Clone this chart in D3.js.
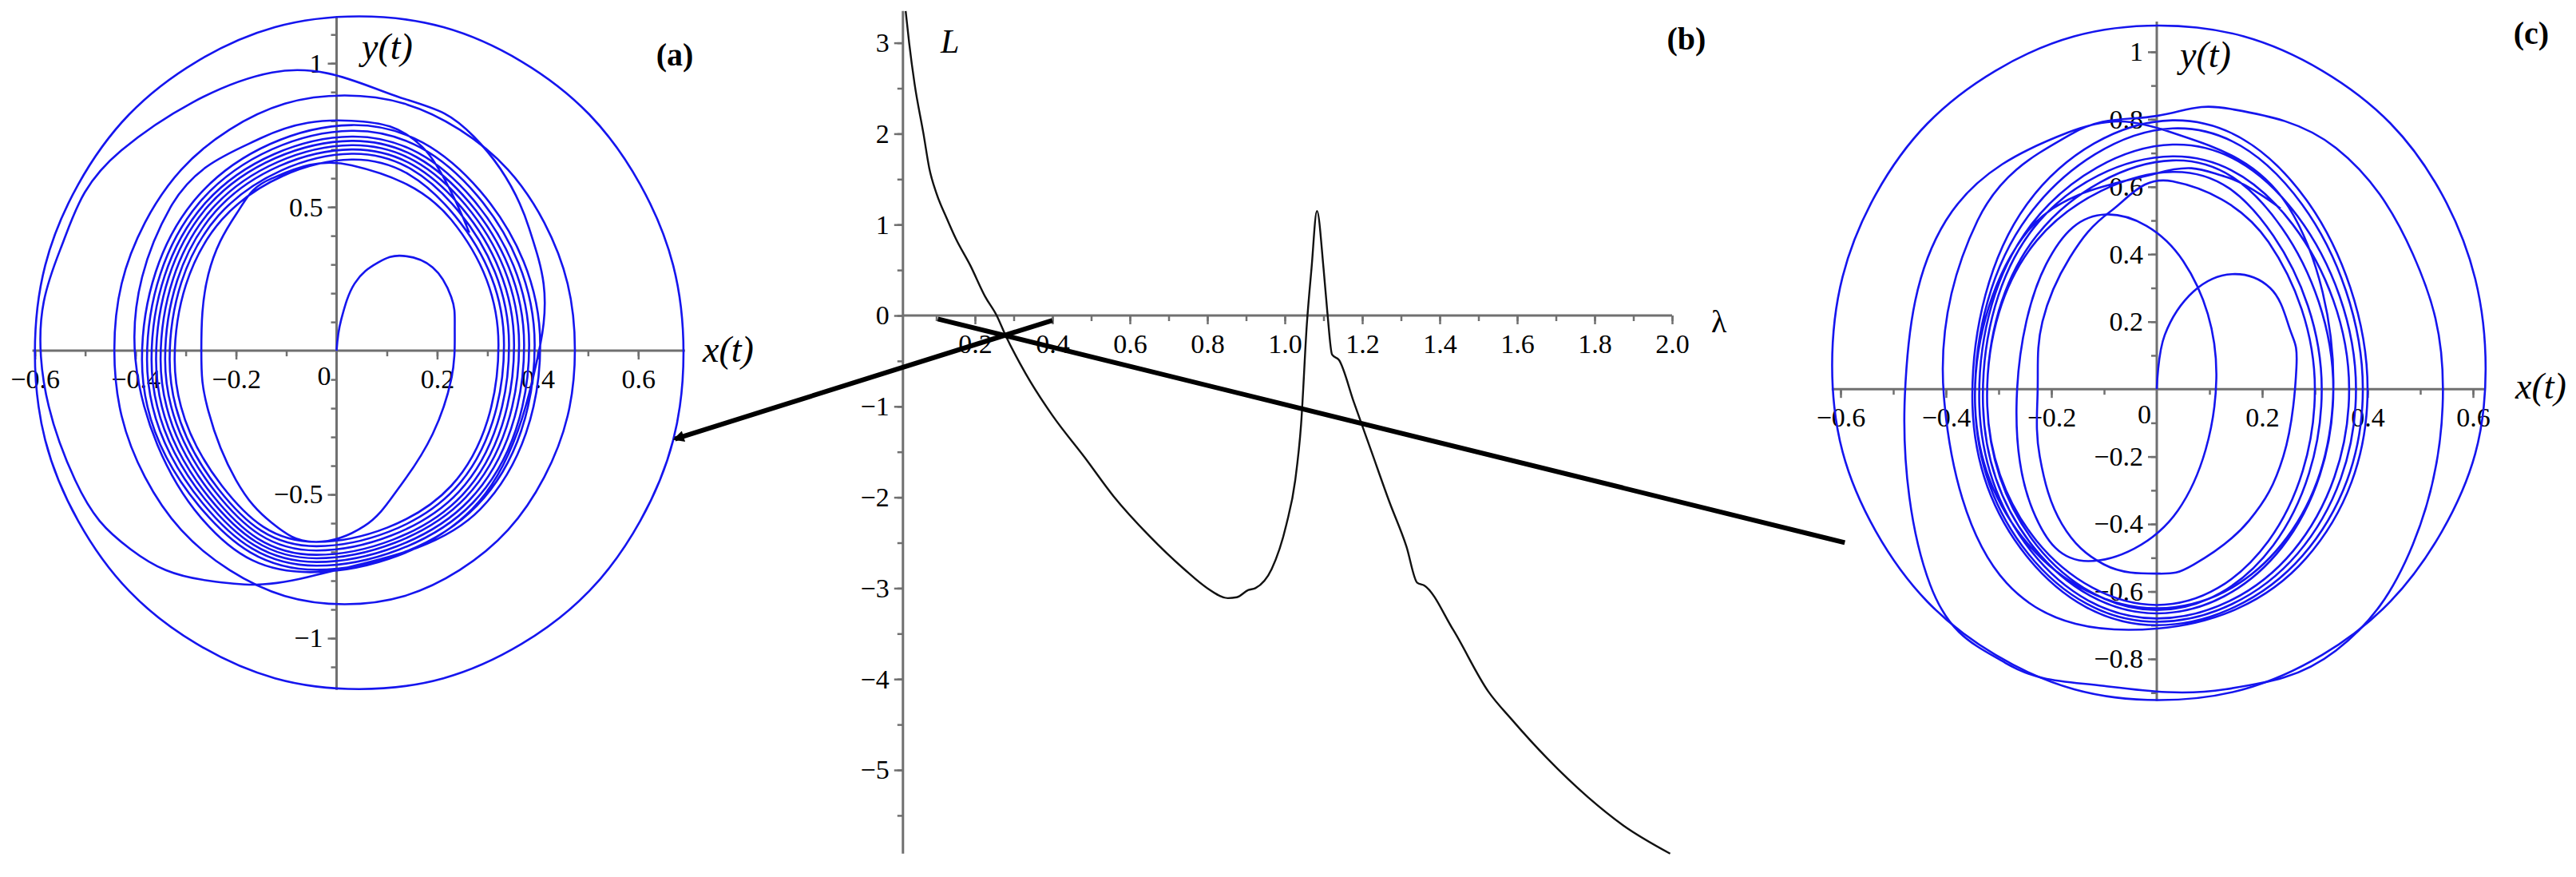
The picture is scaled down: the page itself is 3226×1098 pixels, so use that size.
<!DOCTYPE html>
<html>
<head>
<meta charset="utf-8">
<script src="https://cdn.jsdelivr.net/npm/d3@7"></script>
<style>
  html, body { margin: 0; padding: 0; background: #fff; overflow: hidden; }
</style>
</head>
<body>
<svg id="chart" width="3226" height="1098"></svg>
<script>
const svg = d3.select("#chart");

const serif = "'Liberation Serif', 'DejaVu Serif', serif";
const axisGray = "#707070";
const blue = "#1515ee";

/* ==========================
   DATA
========================== */

// panel (b): L(lambda)
const bLambda = [0.021, 0.03, 0.044, 0.067, 0.082, 0.1, 0.127, 0.15, 0.188, 0.226, 0.256, 0.278, 0.331, 0.40,
    0.483, 0.558, 0.649, 0.74, 0.80, 0.853, 0.876, 0.906, 0.924, 0.966, 1.004, 1.027, 1.042, 1.057, 1.069,
    1.083, 1.10, 1.11, 1.122, 1.14, 1.178, 1.224, 1.27, 1.314, 1.342, 1.36, 1.435, 1.526, 1.587, 1.677,
    1.783, 1.874, 1.995];
const bL = [3.35, 3.0, 2.55, 2.0, 1.62, 1.35, 1.07, 0.85, 0.55, 0.21, 0.0, -0.21, -0.64, -1.10,
    -1.56, -1.99, -2.42, -2.79, -3.00, -3.11, -3.10, -3.02, -3.00, -2.79, -2.30, -1.81, -1.20, -0.09, 0.52,
    1.15, 0.52, 0.03, -0.43, -0.49, -0.95, -1.50, -2.05, -2.54, -2.94, -2.97, -3.46, -4.14, -4.45, -4.87,
    -5.30, -5.61, -5.92];

// panel (a): trajectory (x(t), y(t)) read loop by loop
const aStart = [[0, 0], [0.009, 0.107], [0.036, 0.234], [0.082, 0.306], [0.132, 0.33], [0.191, 0.29], [0.228, 0.187],
    [0.235, 0.075], [0.228, -0.10], [0.191, -0.29], [0.128, -0.467], [0.055, -0.61]];
const aLoop2 = [[-0.046, -0.665], [-0.128, -0.60], [-0.2, -0.45], [-0.255, -0.21], [-0.269, 0.0], [-0.255, 0.266],
    [-0.2, 0.474], [-0.128, 0.6]];
const aRings = [
    [[0.03, 0.645], [0.228, 0.456], [0.322, 0.02], [0.228, -0.470], [-0.04, -0.665], [-0.228, -0.470], [-0.322, -0.03], [-0.228, 0.456]],
    [[0.03, 0.665], [0.235, 0.470], [0.333, 0.02], [0.235, -0.481], [-0.04, -0.68], [-0.235, -0.481], [-0.332, -0.03], [-0.235, 0.470]],
    [[0.03, 0.685], [0.243, 0.484], [0.343, 0.02], [0.243, -0.491], [-0.04, -0.695], [-0.241, -0.491], [-0.341, -0.03], [-0.241, 0.484]],
    [[0.03, 0.70], [0.250, 0.495], [0.353, 0.02], [0.250, -0.502], [-0.04, -0.71], [-0.247, -0.502], [-0.35, -0.03], [-0.247, 0.495]],
    [[0.03, 0.715], [0.257, 0.506], [0.363, 0.02], [0.257, -0.510], [-0.04, -0.722], [-0.254, -0.510], [-0.359, -0.03], [-0.254, 0.506]],
    [[0.03, 0.73], [0.264, 0.516], [0.373, 0.02], [0.264, -0.520], [-0.04, -0.735], [-0.260, -0.520], [-0.368, -0.03], [-0.260, 0.516]],
    [[0.03, 0.745], [0.271, 0.527], [0.383, 0.02], [0.271, -0.529], [-0.04, -0.748], [-0.267, -0.529], [-0.377, -0.03], [-0.267, 0.527]],
    [[0.03, 0.765], [0.279, 0.541], [0.394, 0.02], [0.279, -0.539], [-0.04, -0.762], [-0.274, -0.539], [-0.387, -0.03], [-0.274, 0.541]],
    [[0.03, 0.785], [0.286, 0.555], [0.405, 0.02], [0.286, -0.551], [-0.04, -0.78]]
];
const aExcursion = [[-0.255, -0.80], [-0.41, -0.69], [-0.52, -0.45], [-0.588, -0.02], [-0.55, 0.35], [-0.428, 0.697],
    [-0.128, 0.968], [0.128, 0.88], [0.273, 0.745], [0.383, 0.426], [0.405, 0.02], [0.27, -0.55], [-0.04, -0.77],
    [-0.27, -0.58], [-0.40, -0.03], [-0.33, 0.50], [-0.15, 0.74], [0.03, 0.80], [0.17, 0.71], [0.264, 0.41]];
const aLoopO3 = [[0.016, 0.888], [0.245, 0.769], [0.413, 0.446], [0.474, 0.003], [0.413, -0.44], [0.245, -0.763],
    [0.016, -0.882], [-0.213, -0.763], [-0.381, -0.44], [-0.442, 0.003], [-0.381, 0.446], [-0.213, 0.769]];
const aLoopO1 = [[0.045, 1.163], [0.368, 1.006], [0.604, 0.578], [0.69, -0.007], [0.604, -0.592], [0.368, -1.02],
    [0.045, -1.177], [-0.278, -1.02], [-0.514, -0.592], [-0.60, -0.007], [-0.514, 0.578], [-0.278, 1.006]];

// panel (c): trajectory (x(t), y(t)) read loop by loop
const cStart = [[0, 0], [0.015, 0.16], [0.07, 0.29], [0.143, 0.341], [0.215, 0.30], [0.252, 0.18], [0.265, 0.065],
    [0.24, -0.2], [0.175, -0.39], [0.07, -0.52], [0.0, -0.547], [-0.10, -0.52], [-0.18, -0.40], [-0.222, -0.2],
    [-0.226, 0.0], [-0.217, 0.2], [-0.165, 0.39], [-0.087, 0.528]];
const cLoop2 = [[0.03, 0.616], [0.212, 0.436], [0.30, 0.0], [0.212, -0.45], [0.0, -0.64], [-0.228, -0.45],
    [-0.322, -0.02], [-0.228, 0.44]];
const cRings = [
    [[0.03, 0.644], [0.221, 0.455], [0.313, 0.0], [0.221, -0.463], [0.0, -0.655], [-0.228, -0.463], [-0.322, -0.02], [-0.228, 0.455]],
    [[0.03, 0.678], [0.237, 0.479], [0.335, 0.0], [0.237, -0.470], [0.0, -0.665], [-0.233, -0.470], [-0.33, -0.02], [-0.233, 0.479]],
    [[0.03, 0.69], [0.258, 0.488], [0.365, 0.0], [0.258, -0.481], [0.0, -0.68], [-0.238, -0.481], [-0.337, -0.02], [-0.238, 0.488]],
    [[0.03, 0.725], [0.267, 0.513], [0.378, 0.0], [0.267, -0.488], [0.0, -0.69], [-0.244, -0.488], [-0.345, -0.02], [-0.244, 0.513]],
    [[0.03, 0.773], [0.276, 0.547], [0.391, 0.0], [0.276, -0.495], [0.0, -0.70], [-0.247, -0.495], [-0.35, -0.02], [-0.247, 0.547]],
    [[0.03, 0.797], [0.283, 0.563], [0.40, 0.0], [0.283, -0.502], [0.0, -0.71]]
];
const cSwing = [[-0.285, -0.575], [-0.404, -0.02], [-0.34, 0.50], [-0.165, 0.754], [0.0, 0.81], [0.139, 0.831],
    [0.34, 0.715], [0.486, 0.40], [0.543, 0.0], [0.486, -0.46], [0.34, -0.775], [0.13, -0.89], [-0.10, -0.88],
    [-0.287, -0.812], [-0.43, -0.58], [-0.478, -0.02], [-0.40, 0.50], [-0.17, 0.76]];
const cLast = [[0.03, 0.76], [0.25, 0.54], [0.335, 0.0], [0.237, -0.46], [0.0, -0.65], [-0.244, -0.46], [-0.345, -0.02],
    [-0.244, 0.47], [0.0, 0.64], [0.13, 0.63], [0.235, 0.535]];
const cSmall = [[-0.096, 0.518], [0.05, 0.38], [0.113, 0.03], [0.04, -0.36], [-0.13, -0.51], [-0.235, -0.36],
    [-0.265, 0.0], [-0.21, 0.37]];
const cOuter = [[0.004, 1.078], [0.314, 0.944], [0.541, 0.578], [0.624, 0.06], [0.541, -0.422], [0.314, -0.788],
    [0.004, -0.922], [-0.306, -0.788], [-0.533, -0.422], [-0.616, 0.07], [-0.533, 0.578], [-0.306, 0.944]];

// ticks
const abXMinor = [-0.6, -0.5, -0.4, -0.3, -0.2, -0.1, 0.1, 0.2, 0.3, 0.4, 0.5, 0.6];
const abXMajor = [-0.6, -0.4, -0.2, 0.2, 0.4, 0.6];
const aYMinor = [-1.1, -1.0, -0.9, -0.8, -0.7, -0.6, -0.5, -0.4, -0.3, -0.2, -0.1, 0.1, 0.2, 0.3, 0.4, 0.5, 0.6, 0.7, 0.8, 0.9, 1.0, 1.1];
const aYMajor = [-1, -0.5, 0.5, 1];
const bXMinor = [0.1, 0.2, 0.3, 0.4, 0.5, 0.6, 0.7, 0.8, 0.9, 1.0, 1.1, 1.2, 1.3, 1.4, 1.5, 1.6, 1.7, 1.8, 1.9, 2.0];
const bXMajor = [0.2, 0.4, 0.6, 0.8, 1.0, 1.2, 1.4, 1.6, 1.8, 2.0];
const bYMinor = [-5.5, -5, -4.5, -4, -3.5, -3, -2.5, -2, -1.5, -1, -0.5, 0, 0.5, 1, 1.5, 2, 2.5, 3];
const bYMajor = [-5, -4, -3, -2, -1, 0, 1, 2, 3];
const cYMinor = [-0.9, -0.8, -0.7, -0.6, -0.5, -0.4, -0.3, -0.2, -0.1, 0.1, 0.2, 0.3, 0.4, 0.5, 0.6, 0.7, 0.8, 0.9, 1.0];
const cYMajor = [-0.8, -0.6, -0.4, -0.2, 0.2, 0.4, 0.6, 0.8, 1];

// arrows: start on panel (b) (lambda, L), end on panel (a) / (c) (x, y)
const arrowToA = { from: [0.40, -0.053], to: [0.673, -0.307] };
const arrowToC = { from: [0.104, -0.038], to: [-0.592, -0.455] };

/* ==========================
   SCALES
========================== */

const ax = d3.scaleLinear().domain([-0.6, 0.6]).range([43.7, 799.3]);
const ay = d3.scaleLinear().domain([-1, 1]).range([799, 79.2]);

const bx = d3.scaleLinear().domain([0, 2]).range([1124, 2094]);
const by = d3.scaleLinear().domain([-5, 3]).range([964, 53.6]);

const cx = d3.scaleLinear().domain([-0.6, 0.6]).range([2305, 3097]);
const cy = d3.scaleLinear().domain([-0.8, 1]).range([825, 64.9]);

const signed = v => (v < 0 ? "\u2212" : "") + String(Math.abs(v));

/* ==========================
   AXES
========================== */

function styleAxis(g) {
    g.select(".domain").remove();
    g.attr("font-family", serif).attr("font-size", 34).attr("color", axisGray);
    g.selectAll("line").attr("stroke-width", 2.5);
    g.selectAll("text").attr("fill", "#000");
}

function drawAxes(sx, sy, xExtent, yExtent, xAt, yAt, t) {
    const g = svg.append("g");

    g.append("line")
        .attr("x1", sx(xExtent[0])).attr("x2", sx(xExtent[1]))
        .attr("y1", sy(yAt)).attr("y2", sy(yAt))
        .attr("stroke", axisGray).attr("stroke-width", 3);

    g.append("line")
        .attr("x1", sx(xAt)).attr("x2", sx(xAt))
        .attr("y1", sy(yExtent[0])).attr("y2", sy(yExtent[1]))
        .attr("stroke", axisGray).attr("stroke-width", 3);

    g.append("g").attr("transform", `translate(0,${sy(yAt)})`)
        .call(d3.axisBottom(sx).tickValues(t.xMinor).tickSize(7).tickFormat(""))
        .call(styleAxis);
    g.append("g").attr("transform", `translate(0,${sy(yAt)})`)
        .call(d3.axisBottom(sx).tickValues(t.xMajor).tickSize(11).tickPadding(12).tickFormat(t.xFmt))
        .call(styleAxis);

    g.append("g").attr("transform", `translate(${sx(xAt)},0)`)
        .call(d3.axisLeft(sy).tickValues(t.yMinor).tickSize(7).tickFormat(""))
        .call(styleAxis);
    g.append("g").attr("transform", `translate(${sx(xAt)},0)`)
        .call(d3.axisLeft(sy).tickValues(t.yMajor).tickSize(11).tickPadding(6).tickFormat(t.yFmt))
        .call(styleAxis);

    return g;
}

drawAxes(ax, ay, [-0.605, 0.693], [-1.18, 1.16], 0, 0,
    { xMinor: abXMinor, xMajor: abXMajor, yMinor: aYMinor, yMajor: aYMajor, xFmt: signed, yFmt: signed });

drawAxes(bx, by, [0.014, 2.0], [-5.92, 3.35], 0.014, 0,
    { xMinor: bXMinor, xMajor: bXMajor, yMinor: bYMinor, yMajor: bYMajor, xFmt: d3.format(".1f"), yFmt: signed });

drawAxes(cx, cy, [-0.617, 0.624], [-0.925, 1.09], 0, 0,
    { xMinor: abXMinor, xMajor: abXMajor, yMinor: cYMinor, yMajor: cYMajor, xFmt: signed, yFmt: signed });

/* ==========================
   CURVES
========================== */

// slightly negative tension keeps the loops round between the read points
const orbit = (sx, sy, closed) => d3.line()
    .x(d => sx(d[0]))
    .y(d => sy(d[1]))
    .curve(closed ? d3.curveCardinalClosed.tension(-0.12) : d3.curveCardinal.tension(-0.12));

function drawOrbit(points, sx, sy, closed) {
    svg.append("path")
        .datum(points)
        .attr("d", orbit(sx, sy, closed))
        .attr("fill", "none")
        .attr("stroke", blue)
        .attr("stroke-width", 2.6);
}

drawOrbit([].concat(aStart, aLoop2, ...aRings, aExcursion), ax, ay, false);
drawOrbit(aLoopO3, ax, ay, true);
drawOrbit(aLoopO1, ax, ay, true);

drawOrbit([].concat(cStart, cLoop2, ...cRings, cSwing, cLast), cx, cy, false);
drawOrbit(cSmall, cx, cy, true);
drawOrbit(cOuter, cx, cy, true);

const bData = bLambda.map((l, i) => ({ l: l, v: bL[i] }));

svg.append("path")
    .datum(bData)
    .attr("d", d3.line().x(d => bx(d.l)).y(d => by(d.v)).curve(d3.curveMonotoneX))
    .attr("fill", "none")
    .attr("stroke", "#111")
    .attr("stroke-width", 2.4);

/* ==========================
   LABELS
========================== */

function label(x, y, txt, size, opts = {}) {
    svg.append("text")
        .attr("x", x).attr("y", y)
        .attr("font-family", serif)
        .attr("font-size", size)
        .attr("font-style", opts.italic ? "italic" : "normal")
        .attr("font-weight", opts.bold ? "bold" : "normal")
        .attr("text-anchor", opts.anchor || "start")
        .attr("fill", "#000")
        .text(txt);
}

// origin zeros
label(ax(0) - 7, ay(0) + 43, "0", 34, { anchor: "end" });
label(cx(0) - 7, cy(0) + 43, "0", 34, { anchor: "end" });

label(453, 74, "y(t)", 46, { italic: true });
label(880, 453, "x(t)", 46, { italic: true });
label(845, 82, "(a)", 40, { bold: true, anchor: "middle" });

label(1178, 66, "L", 42, { italic: true });
label(2143, 416, "\u03bb", 40);
label(2112, 62, "(b)", 40, { bold: true, anchor: "middle" });

label(2730, 84, "y(t)", 46, { italic: true });
label(3150, 499, "x(t)", 46, { italic: true });
label(3170, 55, "(c)", 40, { bold: true, anchor: "middle" });

/* ==========================
   ARROWS
========================== */

const defs = svg.append("defs");
defs.append("marker")
    .attr("id", "head")
    .attr("viewBox", "0 0 10 10")
    .attr("refX", 8).attr("refY", 5)
    .attr("markerWidth", 16).attr("markerHeight", 14)
    .attr("markerUnits", "userSpaceOnUse")
    .attr("orient", "auto")
    .append("path")
    .attr("d", "M0,0 L10,5 L0,10 z")
    .attr("fill", "#000");

svg.append("line")
    .attr("x1", bx(arrowToA.from[0])).attr("y1", by(arrowToA.from[1]))
    .attr("x2", ax(arrowToA.to[0])).attr("y2", ay(arrowToA.to[1]))
    .attr("stroke", "#000").attr("stroke-width", 6)
    .attr("marker-end", "url(#head)");

svg.append("line")
    .attr("x1", bx(arrowToC.from[0])).attr("y1", by(arrowToC.from[1]))
    .attr("x2", cx(arrowToC.to[0])).attr("y2", cy(arrowToC.to[1]))
    .attr("stroke", "#000").attr("stroke-width", 6);
</script>
</body>
</html>
